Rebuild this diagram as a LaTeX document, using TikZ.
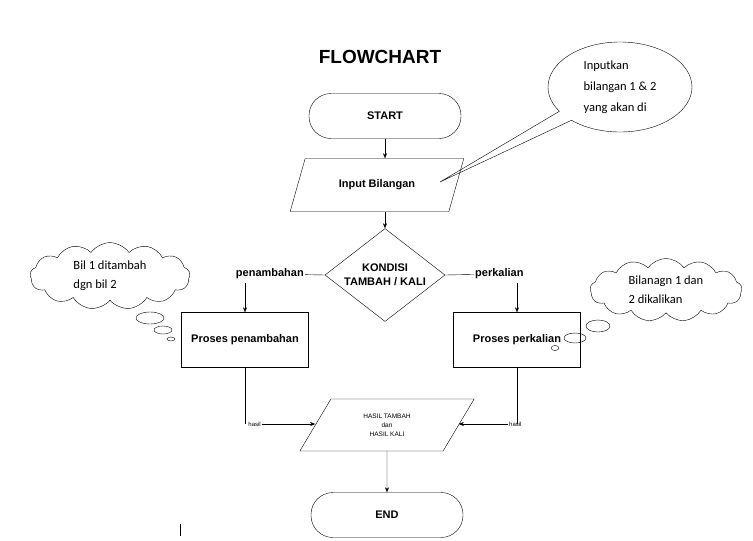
\documentclass[tikz,border=0pt]{standalone}
\usepackage{fontspec}
\setmainfont{Liberation Sans}
\newfontfamily\cloudfont{Carlito}
\usetikzlibrary{shapes.geometric,shapes.symbols,shapes.callouts,arrows.meta}
\begin{document}
\begin{tikzpicture}[x=1pt,y=-1pt,
  every node/.style={font=\bfseries\fontsize{11}{14}\selectfont, align=center},
  terminal/.style={draw, rounded corners=22pt, minimum width=152pt, minimum height=45pt},
  io/.style={draw, trapezium, trapezium left angle=63, trapezium right angle=117, trapezium stretches=true, minimum width=175pt, minimum height=53pt},
  process/.style={draw, minimum width=127pt, minimum height=55pt},
  thought/.style={draw, cloud, cloud puffs=13, cloud puff arc=110, aspect=2.6, font=\cloudfont\fontsize{12.5}{19}\selectfont, align=left},
  small/.style={font=\fontsize{6}{7}\selectfont},
  arr/.style={-{Stealth[length=5pt,width=4pt]}}]
\useasboundingbox (0,0) rectangle (753,541);
\node (title) at (380,57) {\fontsize{19}{22}\selectfont FLOWCHART};
\node[terminal] (start) at (385,116) {START};
\node[io] (input) at (377,185) {Input Bilangan};
\node[draw, diamond, aspect=1.3, minimum width=120pt, minimum height=93pt, inner sep=0pt] (kondisi) at (385,275) {KONDISI\\TAMBAH / KALI};
\node[anchor=east, inner sep=1pt] (tambah) at (305,274) {penambahan};
\node[anchor=west, inner sep=1pt] (kali) at (474,274) {perkalian};
\node[process] (ptambah) at (245,340) {Proses penambahan};
\node[process] (pkali) at (517,340) {Proses perkalian};
\node[io, font=\mdseries\fontsize{6.5}{9}\selectfont, minimum height=52pt] (output) at (387,425) {HASIL TAMBAH\\dan\\HASIL KALI};
\node[terminal] (end) at (387,515) {END};
\node[small, anchor=east, inner sep=1pt] (hasilL) at (262,424) {hasil};
\node[small, anchor=west, inner sep=1pt] (hasilR) at (508,424) {hasil};
\coordinate (tambahT) at (245,283);
\coordinate (kaliT) at (517,283);
% connectors
\draw[arr] (start) -- (start |- input.north);
\draw[arr] (start.south |- input.south) -- (kondisi);
\draw (kondisi.west) -- (tambah);
\draw (kondisi.east) -- (kali);
\draw[arr] (tambahT) -- (ptambah);
\draw[arr] (kaliT) -- (pkali);
\draw (ptambah) -- (ptambah.south |- hasilL);
\draw[arr] (hasilL) -- (hasilL -| output.west);
\draw (pkali) -- (pkali.south |- hasilR);
\draw[arr] (hasilR) -- (hasilR -| output.east);
\draw[arr] (output) -- (end);
% notes
\node[draw, ellipse callout, minimum width=144pt, minimum height=90pt, callout absolute pointer={(440,182)}, font=\cloudfont\fontsize{12.5}{21}\selectfont, align=left] (note) at (620,87) {Inputkan\\bilangan 1 \& 2\\yang akan di};
\node[thought, minimum width=160pt, minimum height=52pt] (cloudL) at (110,276) {Bil 1 ditambah\\dgn bil 2};
\node[thought, minimum width=152pt, minimum height=56pt] (cloudR) at (666,290) {Bilanagn 1 dan\\2 dikalikan};
\draw (150,318) ellipse (14 and 6);
\draw (163,330) ellipse (9 and 4);
\draw (171,339) ellipse (4 and 2);
\draw (598,326) ellipse (12 and 6);
\draw (575,338) ellipse (11 and 5);
\draw (555,348) ellipse (4 and 2.5);
\draw[line width=1pt] (180,524) -- (180,536);
\end{tikzpicture}
\end{document}
